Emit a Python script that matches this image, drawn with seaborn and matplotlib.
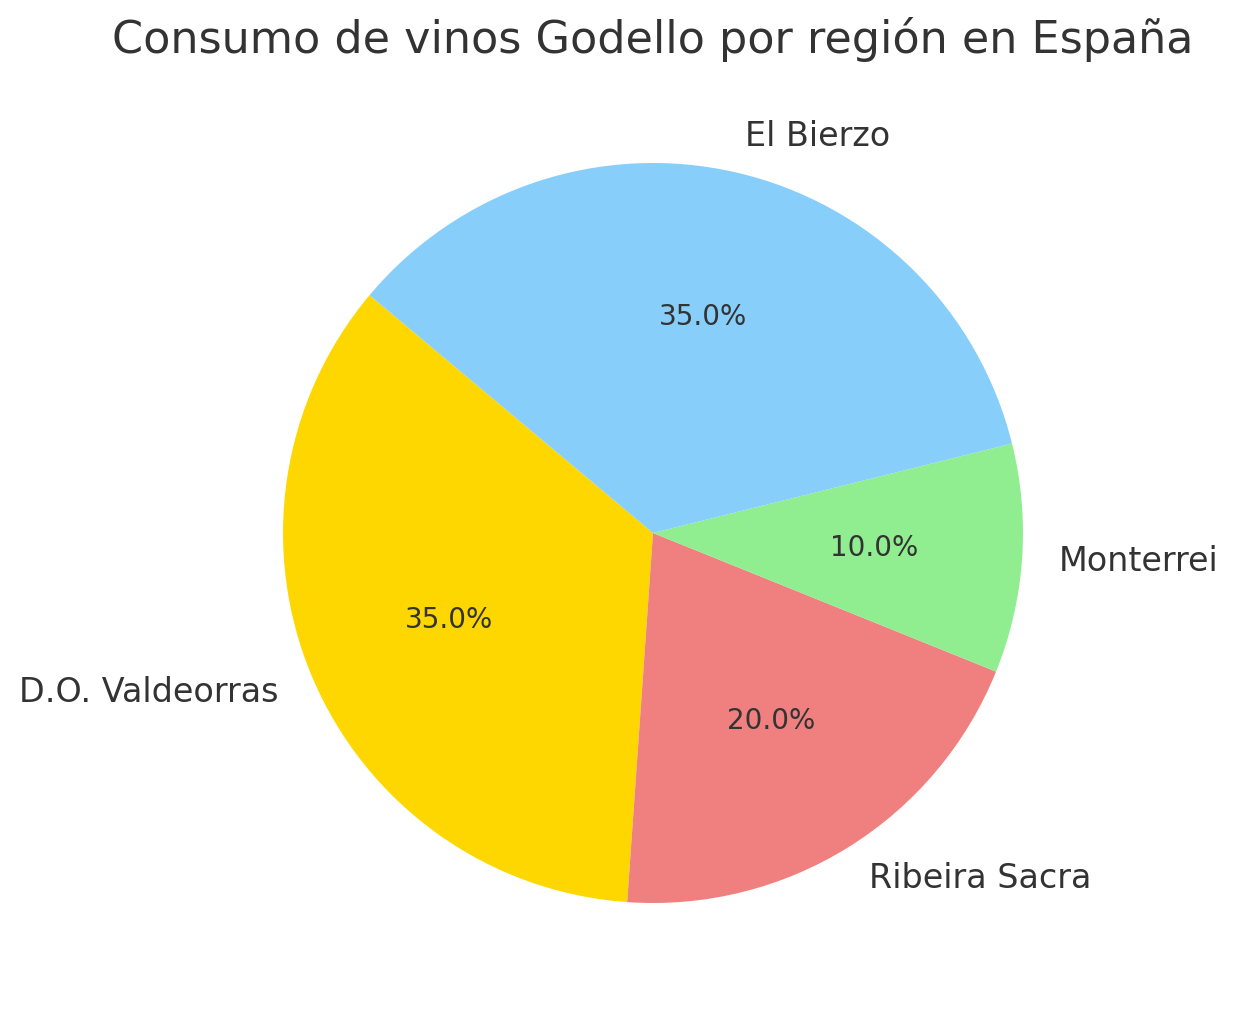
import matplotlib
matplotlib.use("Agg")
import matplotlib.pyplot as plt
import seaborn as sns

sns.set_theme(style="white")
plt.rcParams['font.family'] = ['DejaVu Sans']
plt.rcParams['text.color'] = '#333333'

regions = ["D.O. Valdeorras", "Ribeira Sacra", "Monterrei", "El Bierzo"]
shares = [35, 20, 10, 35]
colors = ["gold", "lightcoral", "lightgreen", "lightskyblue"]

fig = plt.figure(figsize=(12.39, 10.16), dpi=100)
W, H = 1239, 1016
cx, cy, r = 653, 533, 370
ax = fig.add_axes([(cx - r) / W, 1 - (cy + r) / H, 2 * r / W, 2 * r / H])
wedges, texts, autotexts = ax.pie(shares, labels=regions, colors=colors, autopct='%1.1f%%',
                                  startangle=140, wedgeprops={'linewidth': 0},
                                  textprops={'fontsize': 24, 'color': '#333333'})
for t in autotexts:
    t.set_fontsize(20)
ax.set_xlim(-1, 1)
ax.set_ylim(-1, 1)
ax.set_aspect('auto')
fig.text(cx / W, 1 - 40 / H, "Consumo de vinos Godello por región en España",
         fontsize=32, color='#333333', ha='center', va='center')
plt.savefig("out.png", dpi=100)
